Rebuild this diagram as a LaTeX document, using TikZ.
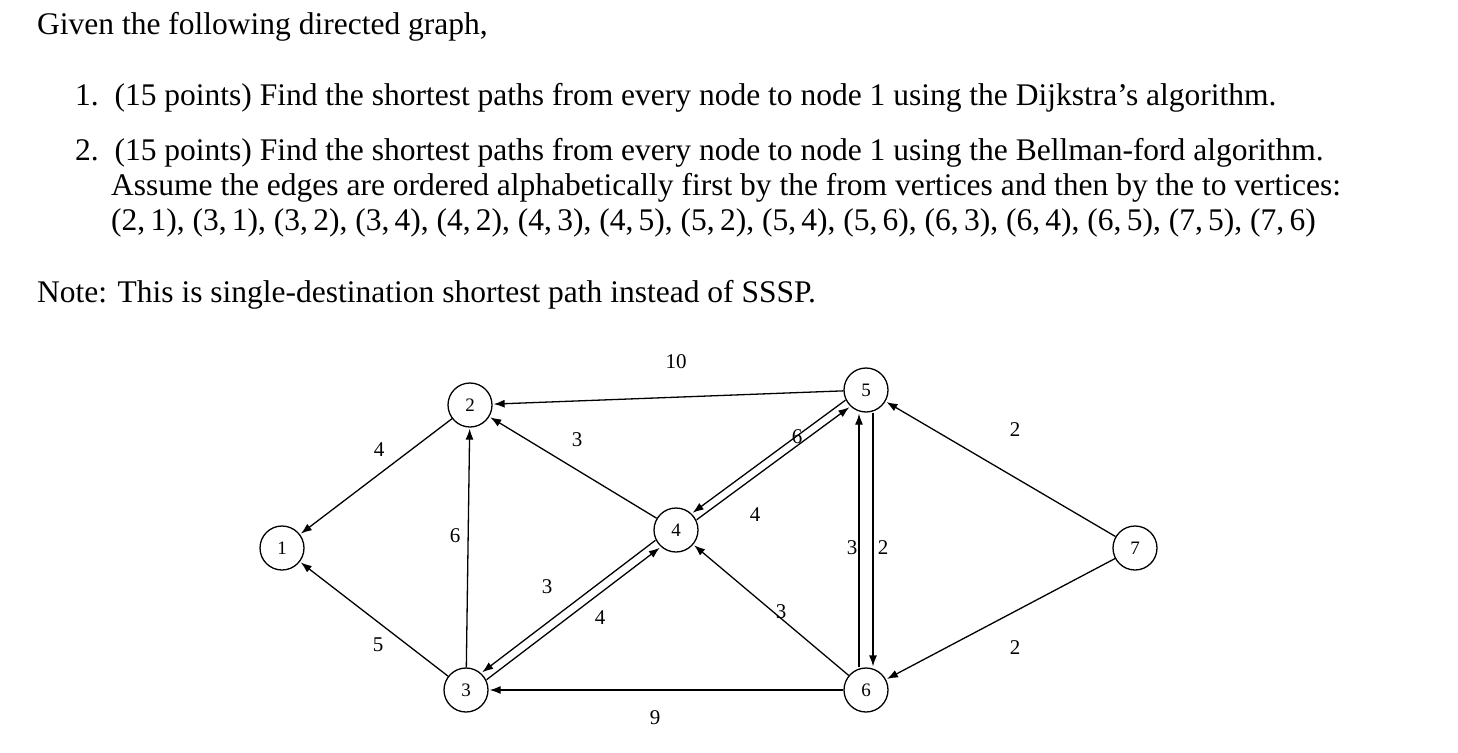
\documentclass[tikz,border=0pt]{standalone}
\usepackage{fontspec}
\setmainfont{Liberation Serif}
\usetikzlibrary{arrows.meta}
\begin{document}
\begin{tikzpicture}[x=1pt,y=-1pt,
  vert/.style={circle,draw,line width=1.3pt,minimum size=44pt,inner sep=0pt,font=\fontsize{19}{19}\selectfont},
  arr/.style={-{Latex[length=11pt,width=8pt]},line width=1.3pt,shorten >=1pt},
  wl/.style={font=\fontsize{21}{21}\selectfont},
  txt/.style={anchor=base west,inner sep=0pt,font=\fontsize{31.5}{36}\selectfont}]
\useasboundingbox (0,0) rectangle (1458,752);
\node[txt] (t0) at (37,35) {Given the following directed graph,};
\node[txt] (t1) at (75,105) {1.\ \ (15 points) Find the shortest paths from every node to node 1 using the Dijkstra's algorithm.};
\node[txt] (t2) at (75,160) {2.\ \ (15 points) Find the shortest paths from every node to node 1 using the Bellman-ford algorithm.};
\node[txt] (t3) at (111,195) {Assume the edges are ordered alphabetically first by the from vertices and then by the to vertices:};
\node[txt] (t4) at (111,230) {(2,\,1), (3,\,1), (3,\,2), (3,\,4), (4,\,2), (4,\,3), (4,\,5), (5,\,2), (5,\,4), (5,\,6), (6,\,3), (6,\,4), (6,\,5), (7,\,5), (7,\,6)};
\node[txt] (t5) at (37,302) {Note: This is single-destination shortest path instead of SSSP.};
\node[vert] (1) at (282,548) {1};
\node[vert] (2) at (470,405) {2};
\node[vert] (3) at (466,690) {3};
\node[vert] (4) at (676,530) {4};
\node[vert] (5) at (866,390) {5};
\node[vert] (6) at (866,690) {6};
\node[vert] (7) at (1135,548) {7};
\draw[arr] (2) -- (1);
\draw[arr] (3) -- (1);
\draw[arr] (3) -- (2);
\draw[arr] (4) -- (2);
\draw[arr] (5) -- (2);
\draw[arr] (6) -- (3);
\draw[arr] (6) -- (4);
\draw[arr] (7) -- (5);
\draw[arr] (7) -- (6);
\draw[arr,transform canvas={shift={(2.6,3.4)}}] (3) -- (4);
\draw[arr,transform canvas={shift={(-2.6,-3.4)}}] (4) -- (3);
\draw[arr,transform canvas={shift={(2.4,3.2)}}] (4) -- (5);
\draw[arr,transform canvas={shift={(-2.4,-3.2)}}] (5) -- (4);
\draw[arr,transform canvas={shift={(-7,0)}}] (6) -- (5);
\draw[arr,transform canvas={shift={(7,0)}}] (5) -- (6);
\node[wl] (w21) at (379,450) {4};
\node[wl] (w31) at (378,645) {5};
\node[wl] (w32) at (455,536) {6};
\node[wl] (w42) at (577,440) {3};
\node[wl] (w52) at (676,362) {10};
\node[wl] (w43) at (547,587) {3};
\node[wl] (w34) at (600,618) {4};
\node[wl] (w63) at (655,718) {9};
\node[wl] (w45) at (797,437) {6};
\node[wl] (w54) at (755,515) {4};
\node[wl] (w64) at (781,612) {3};
\node[wl] (w65) at (852,548) {3};
\node[wl] (w56) at (883,548) {2};
\node[wl] (w75) at (1015,430) {2};
\node[wl] (w76) at (1015,648) {2};
\end{tikzpicture}
\end{document}
